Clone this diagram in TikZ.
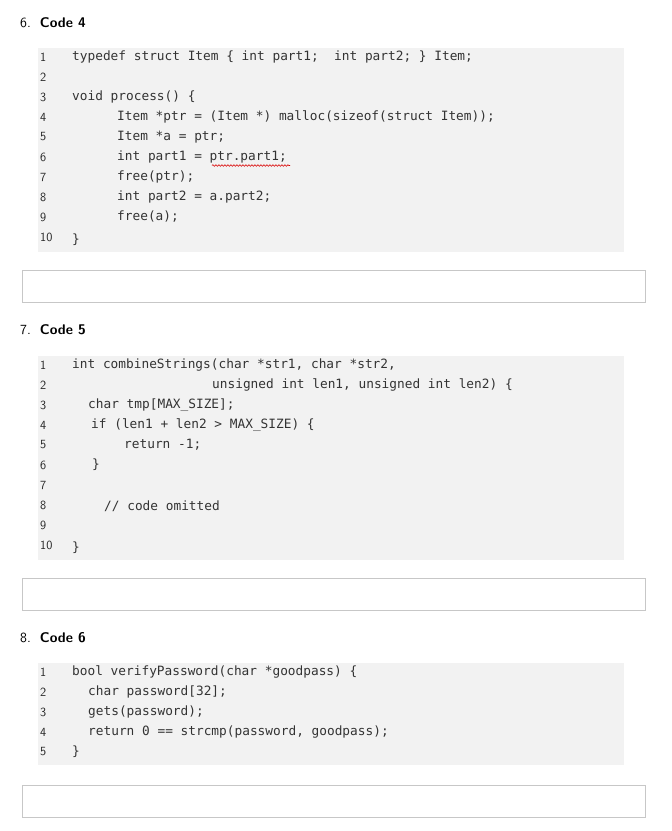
\documentclass[tikz,border=0pt]{standalone}
\usepackage{fontspec}
\setmainfont{Liberation Sans}
\setmonofont{DejaVu Sans Mono}
\usetikzlibrary{decorations.pathmorphing}
\begin{document}
\begin{tikzpicture}[x=1pt,y=-1pt,
  code/.style={anchor=west,inner sep=0pt,font=\fontsize{12.8}{14}\ttfamily,text=black!80},
  num/.style={anchor=west,inner sep=0pt,font=\fontsize{12.5}{14}\sffamily,text=black!85},
  head/.style={anchor=west,inner sep=0pt,font=\fontsize{14}{16}\sffamily},
  codebox/.style={fill=black!5,draw=none},
  ansbox/.style={draw=black!22,fill=white,line width=0.8pt}]
\useasboundingbox (0,0) rectangle (672,831);
% Code 4
\node[head] (h6) at (20,23) {6.\ \ \textbf{Code 4}};
\fill[codebox] (38,48) rectangle (624,252);
\foreach \n [count=\i] in {1,...,10}{\node[num] (a\i) at (40,37+20*\i) {\n};}
\node[code] (c1) at (72,57) {typedef struct Item \{ int part1;\ \ int part2; \} Item;};
\node[code] (c3) at (72,97) {void process() \{};
\node[code] (c4) at (117,117) {Item *ptr = (Item *) malloc(sizeof(struct Item));};
\node[code] (c5) at (117,137) {Item *a = ptr;};
\node[code] (c6) at (117,157) {int part1 = ptr.part1;};
\node[code] (c7) at (117,177) {free(ptr);};
\node[code] (c8) at (117,197) {int part2 = a.part2;};
\node[code] (c9) at (117,217) {free(a);};
\node[code] (c10) at (72,240) {\}};
\draw[red!85!black,line width=0.6pt,decorate,decoration={snake,amplitude=0.8pt,segment length=3pt}] (212,165.5) -- (290,165.5);
\draw[ansbox] (22,270) rectangle (645,302);
% Code 5
\node[head] (h7) at (20,330) {7.\ \ \textbf{Code 5}};
\fill[codebox] (38,356) rectangle (624,560);
\foreach \n [count=\i] in {1,...,10}{\node[num] (b\i) at (40,345+20*\i) {\n};}
\node[code] (d1) at (72,365) {int combineStrings(char *str1, char *str2,};
\node[code] (d2) at (212,385) {unsigned int len1, unsigned int len2) \{};
\node[code] (d3) at (88,405) {char tmp[MAX\_SIZE];};
\node[code] (d4) at (91,425) {if (len1 + len2 > MAX\_SIZE) \{};
\node[code] (d5) at (124,445) {return -1;};
\node[code] (d6) at (92,465) {\}};
\node[code] (d8) at (104,506) {// code omitted};
\node[code] (d10) at (72,548) {\}};
\draw[ansbox] (22,578) rectangle (645,610);
% Code 6
\node[head] (h8) at (20,638) {8.\ \ \textbf{Code 6}};
\fill[codebox] (38,663) rectangle (624,765);
\foreach \n [count=\i] in {1,...,5}{\node[num] (e\i) at (40,652+20*\i) {\n};}
\node[code] (f1) at (72,672) {bool verifyPassword(char *goodpass) \{};
\node[code] (f2) at (88,692) {char password[32];};
\node[code] (f3) at (88,712) {gets(password);};
\node[code] (f4) at (88,732) {return 0 == strcmp(password, goodpass);};
\node[code] (f5) at (72,752) {\}};
\draw[ansbox] (22,785) rectangle (645,817);
\end{tikzpicture}
\end{document}
